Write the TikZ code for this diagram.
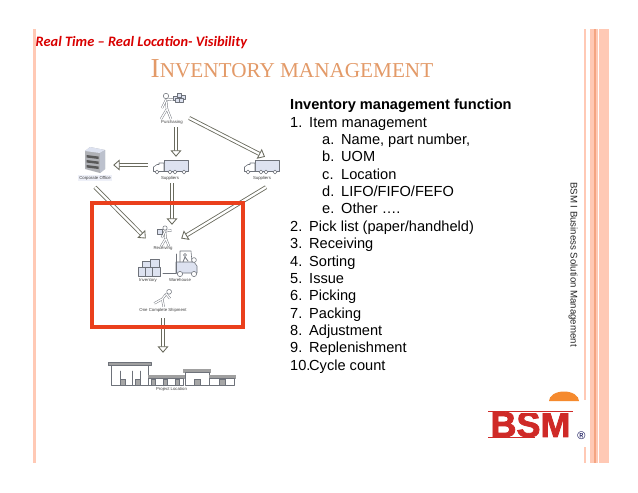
\documentclass[tikz,border=0pt]{standalone}
\usepackage{fontspec}
\setmainfont{Liberation Sans}
\newfontfamily\serifft{Liberation Serif}
\newfontfamily\calibriish{Carlito}
\newfontfamily\logoft[FakeBold=2.2]{Liberation Sans}
\usetikzlibrary{arrows.meta}
\definecolor{stripe}{HTML}{FFC9B5}
\definecolor{stripedark}{HTML}{F4A582}
\definecolor{titlec}{HTML}{E39A68}
\definecolor{redbox}{HTML}{EA3F1C}
\definecolor{bsmred}{HTML}{CF2A27}
\definecolor{sunc}{HTML}{F58A2E}
\definecolor{arrowc}{HTML}{6A6B5E}
\definecolor{iconc}{HTML}{6E727A}
\definecolor{iconfill}{HTML}{DDE2F0}
\definecolor{roofc}{HTML}{A0A0A0}
\tikzset{
  hollow/.style={draw=arrowc,line width=.85pt,double=white,double distance=2.3pt,-{Triangle[open,length=6.5pt,width=11pt,fill=white]}},
  lab/.style={font=\fontsize{4.3}{5}\selectfont,text=black!75,inner sep=0pt},
  ic/.style={draw=iconc,line width=.55pt,line join=round,line cap=round},
  limb/.style={draw=iconc,line width=.45pt,double=white,double distance=1.3pt,line join=round},
  listitem/.style={anchor=base west,inner sep=0pt,font=\fontsize{14.6}{17}\selectfont,text=black},
}
\newcommand{\mytruck}[2]{%
  \begin{scope}[shift={(#1,#2)}]
    \filldraw[ic,fill=iconfill] (0,-7) rectangle (24,4.5);
    \draw[ic,fill=white] (0,4.5) -- (-10.5,4.5) -- (-10.5,0) -- (-7,-2.5) -- (-5,-2.5) -- (-5,-4) -- (0,-4) -- cycle;
    \draw[ic] (0,4.5) -- (24,4.5);
    \foreach \wx in {-7,6,11,20}{\draw[ic,fill=white] (\wx,5) circle (1.9);}
  \end{scope}}
\newcommand{\myperson}[3]{%
  \begin{scope}[shift={(#1,#2)},scale=#3]
    \draw[ic,fill=white] (0,-10) circle (2.7);
    \draw[limb] (5,13) -- (1,3) -- (-5,13);
    \draw[limb] (1,3) -- (0,-6.5);
    \draw[limb] (0,-6) -- (8,-7);
    \draw[limb] (0,-6) -- (-4,2);
  \end{scope}}
\begin{document}
\begin{tikzpicture}[x=1pt,y=-1pt]
\useasboundingbox (0,0) rectangle (638,493);
\fill[white] (0,0) rectangle (638,493);
% stripes
\fill[stripe] (33,29) rectangle (35.5,463);
\fill[stripe] (583.5,29) rectangle (586,400);
\fill[stripe] (583.5,447) rectangle (586,463);
\fill[stripe] (590,29) rectangle (609,463);
\fill[stripedark] (594,29) rectangle (595.5,463);
\draw[white,line width=.8pt] (598,29) -- (598,463);
% header
\node[anchor=base west,inner sep=0pt,text=red!85!black,font=\calibriish\bfseries\itshape\fontsize{14.4}{15}\selectfont] (hdr) at (35.5,46) {Real Time – Real Location- Visibility};
\node[anchor=base west,inner sep=0pt,text=titlec,font=\serifft] (ttl) at (150.5,77) {\fontsize{27.4}{28}\selectfont I\fontsize{21.2}{24}\selectfont NVENTORY MANAGEMENT};
% list
\node[listitem,font=\bfseries\fontsize{14.6}{17}\selectfont] (lh) at (290,109) {Inventory management function};
\node[listitem] (n1) at (290,127) {1.}; \node[listitem] (t1) at (309,127) {Item management};
\node[listitem] (na) at (322,144) {a.}; \node[listitem] (ta) at (341,144) {Name, part number,};
\node[listitem] (nb) at (322,161.5) {b.}; \node[listitem] (tb) at (341,161.5) {UOM};
\node[listitem] (nc) at (322,179) {c.}; \node[listitem] (tc) at (341,179) {Location};
\node[listitem] (nd) at (322,196) {d.}; \node[listitem] (td) at (341,196) {LIFO/FIFO/FEFO};
\node[listitem] (ne) at (322,213.5) {e.}; \node[listitem] (te) at (341,213.5) {Other ….};
\node[listitem] (n2) at (290,231) {2.}; \node[listitem] (t2) at (309,231) {Pick list (paper/handheld)};
\node[listitem] (n3) at (290,248.5) {3.}; \node[listitem] (t3) at (309,248.5) {Receiving};
\node[listitem] (n4) at (290,266) {4.}; \node[listitem] (t4) at (309,266) {Sorting};
\node[listitem] (n5) at (290,283) {5.}; \node[listitem] (t5) at (309,283) {Issue};
\node[listitem] (n6) at (290,300.5) {6.}; \node[listitem] (t6) at (309,300.5) {Picking};
\node[listitem] (n7) at (290,318) {7.}; \node[listitem] (t7) at (309,318) {Packing};
\node[listitem] (n8) at (290,335) {8.}; \node[listitem] (t8) at (309,335) {Adjustment};
\node[listitem] (n9) at (290,352.5) {9.}; \node[listitem] (t9) at (309,352.5) {Replenishment};
\node[listitem] (n10) at (290,370) {10.}; \node[listitem] (t10) at (309,370) {Cycle count};
% vertical text
\node[rotate=-90,inner sep=0pt,text=black!85,font=\fontsize{9.65}{12}\selectfont] (vt) at (573,264.5) {BSM I Business Solution Management};
% anchor nodes for connectors
\node[inner sep=0,minimum width=34pt,minimum height=36pt] (purch) at (172,109) {};
\node[inner sep=0,minimum width=45pt,minimum height=36pt] (truckA) at (170.5,165) {};
\node[inner sep=0,minimum width=36pt,minimum height=30pt] (truckB) at (262,172) {};
\node[inner sep=0,minimum width=36pt,minimum height=44pt] (corp) at (95,165) {};
\node[inner sep=0,minimum width=35pt,minimum height=27pt] (recv) at (163.5,238.5) {};
\node[inner sep=0,minimum width=36pt,minimum height=32pt] (ship) at (163,302) {};
\node[inner sep=0,minimum width=129pt,minimum height=39pt] (proj) at (171.5,372.5) {};
% purchasing person with parcels
\myperson{166}{106}{1}
\foreach \bx/\by in {175/98,179/95,183/97,177/100,181/100}{\draw[ic,fill=iconfill,line width=.45pt] (\bx-2,\by-1.8) rectangle (\bx+2,\by+1.8);}
\node[lab] (lp) at (172,122) {Purchasing};
% trucks
\mytruck{164}{167}
\node[lab] (ls1) at (170,178) {Suppliers};
\mytruck{255}{167}
\node[lab] (ls2) at (262,178) {Suppliers};
% corporate building
\fill[iconc!55] (85,151) -- (90,147) -- (105,150) -- (105,169) -- (100,173) -- (85,169) -- cycle;
\fill[iconfill] (85,151) -- (90,147) -- (105,150) -- (100,153) -- cycle;
\fill[iconfill!70!iconc] (100,153) -- (105,150) -- (105,169) -- (100,173) -- cycle;
\foreach \fy in {155,160,165}{\fill[black!65] (86.5,\fy) -- (98.5,\fy+1.5) -- (98.5,\fy+4) -- (86.5,\fy+2.5) -- cycle;}
\node[lab,fill=iconfill!50,inner sep=.8pt] (lc) at (95,178) {Corporate Office};
% receiving person
\myperson{165}{236}{.8}
\draw[ic,fill=iconfill] (157,229) rectangle (162,234);
\node[lab] (lr) at (163,248.5) {Receiving};
% inventory boxes
\foreach \bx/\by/\bw/\bh in {138/267/7/9,145/267/7/9,152/267/8/9,142/261/8/6,150/259/9/8}{\filldraw[ic,fill=iconfill] (\bx,\by) rectangle ++(\bw,\bh);}
\node[lab] (li) at (148,280) {Inventory};
% forklift
\draw[ic,fill=iconfill] (176,262) -- (194,262) -- (197,266) -- (197,273) -- (176,273) -- cycle;
\draw[ic] (180,262) -- (180,251) -- (191,251) -- (192,262);
\draw[ic,line width=1pt] (176,254) -- (176,273);
\draw[ic,line width=1pt] (163,273) -- (176,273);
\draw[ic,line width=.8pt] (183,262) -- (185,257) -- (188,261);
\draw[ic] (185,255) circle (1.6);
\draw[ic,fill=white] (194,260) circle (2.4);
\draw[ic,fill=white] (180,274) circle (2.6);
\draw[ic,fill=white] (194,274) circle (2.6);
\node[lab] (lw) at (180,280) {Warehouse};
% shipment person
\begin{scope}[shift={(163,297)},rotate=-20]
  \draw[ic,fill=white] (4,-7) circle (2.4);
  \draw[limb] (-6,9) -- (0,2) -- (4,9);
  \draw[limb] (0,2) -- (2,-4);
  \draw[limb] (2,-4) -- (7,-1);
\end{scope}
\node[lab] (ls) at (163,310) {One Complete Shipment};
% project location building
\fill[roofc] (108,362) rectangle (151,365.5);
\draw[ic,line width=.4pt] (108,362) rectangle (151,365.5);
\draw[ic,line width=.4pt] (111,365.5) rectangle (148,385);
\fill[roofc] (148,375) rectangle (185,378.5);
\draw[ic,line width=.4pt] (148,378.5) rectangle (183,385);
\fill[roofc] (183,369) rectangle (211,372.5);
\draw[ic,line width=.4pt] (185,372.5) rectangle (209,385);
\fill[roofc] (209,375) rectangle (236,378.5);
\draw[ic,line width=.4pt] (209,378.5) rectangle (234,385);
\foreach \wx in {120,132,140}{\draw[ic,line width=.35pt] (\wx,371) -- (\wx,385);}
\foreach \wx/\ww in {120/5,135/5,151/4,163/4,175/4,194/6,219/6}{\filldraw[draw=iconc,fill=black!35,line width=.3pt] (\wx,379) rectangle ++(\ww,6);}
\node[lab] (lpl) at (171.5,389) {Project Location};
% connectors
\draw[hollow] ([xshift=4pt]purch.south) -- ([xshift=5.5pt,yshift=-10pt]truckA.north);
\draw[hollow] ([yshift=-9pt]purch.east) -- ([xshift=3pt]truckB.north);
\draw[hollow] (truckA.west) -- (corp.east);
\draw[hollow] (corp.south) -- (recv.west);
\draw[hollow] ([xshift=1.5pt]truckA.south) -- ([xshift=8.5pt]recv.north);
\draw[hollow] ([xshift=4pt]truckB.south) -- (recv.east);
\draw[hollow] (ship.south) -- ([xshift=-8.5pt]proj.north);
% red frame
\draw[redbox,line width=3.8pt] (92,203) rectangle (243,327);
% logo
\fill[sunc] (549,401) arc[start angle=180,end angle=360,x radius=15,y radius=9.5] -- cycle;
\node[inner sep=0pt,text=bsmred,font=\logoft\bfseries\fontsize{36}{36}\selectfont] (logo) at (530.5,424.5) {BSM};
\fill[bsmred] (488,410.5) rectangle (573,412);
\fill[white] (515,412) rectangle (573,413);
\fill[bsmred] (488,436.5) rectangle (535,438);
\node[inner sep=0pt,text=black!70!blue,font=\fontsize{11}{11}\selectfont] (reg) at (581.5,435.5) {®};
\end{tikzpicture}
\end{document}
